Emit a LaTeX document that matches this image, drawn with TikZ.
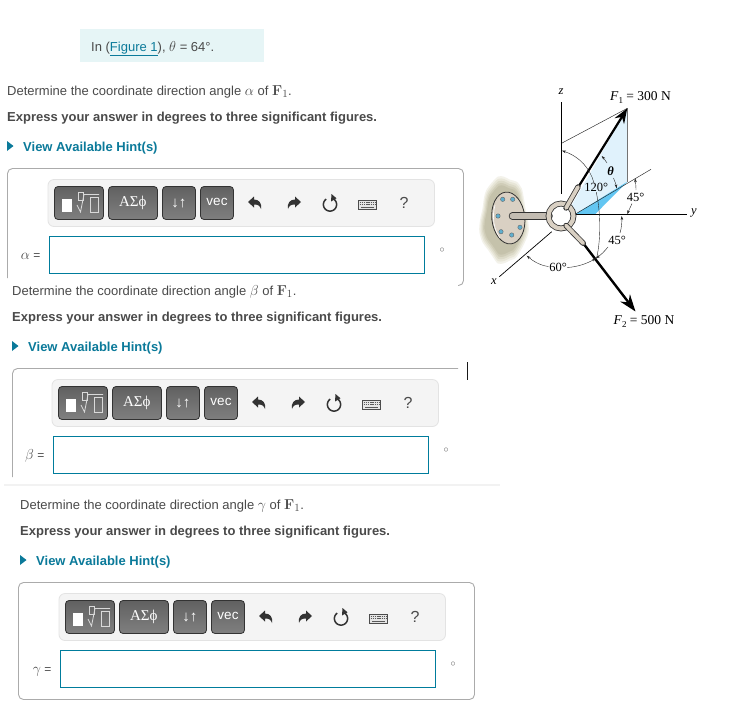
\documentclass[tikz,border=0pt]{standalone}
\usepackage[no-math]{fontspec}
\setsansfont{Liberation Sans}
\newfontfamily\figfont{Liberation Serif}
\usetikzlibrary{arrows.meta,shapes.geometric}
\definecolor{txt}{HTML}{4A4A4A}
\definecolor{teal}{HTML}{0B7A9A}
\definecolor{framec}{HTML}{ABABAB}
\definecolor{tbar}{HTML}{F4F4F4}
\definecolor{tbarb}{HTML}{E3E3E3}
\definecolor{callout}{HTML}{E6F5F6}
\definecolor{inputb}{HTML}{007C9C}
\definecolor{tan}{HTML}{D9D0C3}
\definecolor{pale}{HTML}{E0F2FC}
\definecolor{sky}{HTML}{63C6F2}
\definecolor{bolt}{HTML}{5FAFCF}
\definecolor{icon}{HTML}{333333}
\newcommand{\mmath}[1]{{\fontsize{15}{14}\selectfont$#1$}}
\newcommand{\subn}[1]{\raisebox{-2.5pt}{\fontsize{9}{9}\selectfont #1}}
\tikzset{
  body/.style={inner sep=0pt,anchor=base west,text=txt,font=\sffamily\fontsize{13}{15}\selectfont},
  strong/.style={inner sep=0pt,anchor=base west,text=txt,font=\sffamily\bfseries\fontsize{13}{15}\selectfont},
  hint/.style={inner sep=0pt,anchor=base west,text=teal,font=\sffamily\bfseries\fontsize{13}{15}\selectfont},
  frameline/.style={draw=framec,line width=.9pt},
  btn/.style={draw=black!80,line width=.8pt,rounded corners=3.5pt,top color=black!62,bottom color=black!50},
  btntxt/.style={inner sep=0pt,text=white},
  figtxt/.style={inner sep=0pt,text=black,font=\figfont\fontsize{12.5}{14}\selectfont},
  forcetxt/.style={inner sep=0pt,text=black,font=\figfont\fontsize{13.5}{15}\selectfont},
  thin line/.style={draw=black!85,line width=.45pt},
  dim/.style={draw=black!85,line width=.4pt,-{Stealth[length=4pt,width=2.6pt]}},
  sleeve/.style={draw=black!80,line width=5.4pt,line cap=round},
  sleevein/.style={draw=tan,line width=3.8pt,line cap=round},
}
% #1 prefix, #2 dx, #3 dy, #4 symbol
\newcommand{\toolpanel}[4]{%
  \begin{scope}[shift={(#2,#3)}]
    \path[fill=tbar,draw=tbarb,line width=.8pt,rounded corners=6pt] (48,179.5) rectangle (434.5,226.5);
    \path[btn] (54.5,186.5) rectangle (103.5,219.5);
    \path[btn] (108.5,186.5) rectangle (157.5,219.5);
    \path[btn] (162.5,186.5) rectangle (195.5,219.5);
    \path[btn] (200.5,186.5) rectangle (233.5,219.5);
    \fill[white] (62,199) rectangle (71.7,212);
    \draw[white!85!black,line width=.6pt] (78,192.5) rectangle (83,200);
    \draw[white!85!black,line width=.7pt] (90,197.5) rectangle (98,212);
    \draw[white!85!black,line width=.8pt] (77,205) -- (80.5,212) -- (84,194.5) -- (99,194.5);
    \node[btntxt,font=\figfont\fontsize{15}{15}\selectfont] (#1sym) at (132.8,202.5) {ΑΣϕ};
    \node[btntxt,font=\sffamily\fontsize{15}{15}\selectfont] (#1sort) at (178.8,203.5) {↓↑};
    \node[btntxt,font=\sffamily\fontsize{13.5}{14}\selectfont] (#1vec) at (217,202) {vec};
    % undo
    \fill[icon] (248,202) -- (254,196.5) -- (254,199.5) .. controls (259,199.5) and (262,203) .. (261,209) .. controls (260,205.5) and (258,204.5) .. (254,204.5) -- (254,207.5) -- cycle;
    % redo
    \fill[icon] (301,202) -- (295,196.5) -- (295,199.5) .. controls (290,199.5) and (287,203) .. (288,209) .. controls (289,205.5) and (291,204.5) .. (295,204.5) -- (295,207.5) -- cycle;
    % reload
    \draw[icon,line width=1.5pt] plot[domain=-75:235,samples=32] ({330+6.6*cos(\x)},{204.5+6.6*sin(\x)});
    \fill[icon] (331.5,194) -- (336.5,198.3) -- (331,201.5) -- cycle;
    % keyboard
    \draw[black!70,fill=black!10,line width=.7pt] (358,200) rectangle (376.5,209.5);
    \draw[black!65,line width=1pt,dash pattern=on 1.4pt off .8pt] (359.5,202.2) -- (375.5,202.2);
    \draw[black!65,line width=1pt,dash pattern=on 1.4pt off .8pt] (359.5,204.5) -- (375.5,204.5);
    \draw[black!65,line width=1pt] (361,207) -- (373.5,207);
    \node[inner sep=0pt,text=txt,font=\sffamily\fontsize{16}{16}\selectfont] (#1help) at (404,203) {?};
    \path[fill=white,draw=inputb,line width=1pt] (49.5,236.5) rectangle (424.5,273.5);
    \node[inner sep=0pt,anchor=base east,text=txt,font=\sffamily\fontsize{12}{14}\selectfont] (#1lab) at (40.5,259) {\mmath{#4} =};
    \node[inner sep=0pt,text=black!60,font=\fontsize{10}{12}\selectfont] (#1deg) at (442,250) {$\circ$};
  \end{scope}}
% #1 prefix, #2 x, #3 y of first line, #4 symbol
\newcommand{\question}[4]{%
  \node[body] (#1a) at (#2,#3) {Determine the coordinate direction angle \mmath{#4} of \mmath{\mathbf{F}_1}.};
  \node[strong] (#1b) at (#2,#3+26) {Express your answer in degrees to three significant figures.};
  \fill[teal] (#2,#3+46) -- (#2+6.5,#3+51) -- (#2,#3+56) -- cycle;
  \node[hint] (#1c) at (#2+16,#3+56) {View Available Hint(s)};}
\begin{document}
\begin{tikzpicture}[x=1pt,y=-1pt]
\useasboundingbox (0,0) rectangle (746,726);
\fill[white] (0,0) rectangle (746,726);
% callout
\fill[callout] (80,29) rectangle (264,62);
\node[body] (intro) at (91,51) {In (\textcolor{teal}{\underline{Figure 1}}), \mmath{\theta} = 64°.};
% question 1
\question{qa}{7}{95}{\alpha}
\draw[frameline,rounded corners=5pt] (7.5,278) -- (7.5,168.5) -- (463.5,168.5) -- (463.5,285.5) -- (458,285.5);
\toolpanel{pa}{0}{0}{\alpha}
\question{qb}{12}{295}{\beta}
% question 2
\draw[frameline,rounded corners=5pt] (12.5,477) -- (12.5,368.5) -- (458,368.5);
\draw[black!90,line width=1pt] (467.5,362) -- (467.5,380);
\toolpanel{pb}{4}{200}{\beta}
\draw[black!5,line width=2pt] (4,485) -- (500,485);
% question 3
\question{qc}{20}{509}{\gamma}
\draw[frameline,rounded corners=5pt] (18.5,582.5) rectangle (474.5,699.5);
\toolpanel{pc}{11}{414}{\gamma}

% ---------- figure ----------
\coordinate (O) at (561,216);
\coordinate (ztop) at (561,102);
\coordinate (zbot) at (561,194);
\coordinate (yleft) at (575,214.3);
\coordinate (yend) at (687,214.3);
\coordinate (xstart) at (551.7,231.7);
\coordinate (xend) at (499.3,276.7);
\coordinate (tip) at (627.3,108.3);
\coordinate (foot) at (627.3,181.7);
\coordinate (zmark) at (561.5,143.3);
\coordinate (ray) at (651,169.3);
\coordinate (f2tip) at (635.5,311.5);
% wall shade
\foreach \rr/\cc in {1.14/F3F2EA,1.08/E8E6D8,1.02/DCDAC8,0.96/D0CDB8,0.9/C5C2AB}{
  \definecolor{shadec}{HTML}{\cc}
  \fill[shadec] plot[smooth cycle,domain=0:345,samples=24]
   ({504+\rr*(21+1.5*sin(5*\x))*cos(\x)},{220+\rr*(38+1.5*cos(7*\x))*sin(\x)});
}
% plate
\draw[black!80,fill=tan,line width=.8pt,rotate around={6:(508.3,218)}] (508.3,218) ellipse (16.5pt and 26pt);
\draw[white,line width=.6pt] (495,205) .. controls (492,216) and (493,228) .. (500,238);
\foreach \px/\py in {502.7/199.3,512.7/199.3,498/216,520/227.3,511.7/235,501/231.7}{
  \fill[bolt,draw=black!60,line width=.4pt] (\px,\py) circle (2.2pt);
}
% rod
\draw[black!80,line width=7.5pt,line cap=round] (512.5,216) -- (549,216);
\draw[tan!75!gray,line width=5.8pt,line cap=round] (512.5,216) -- (549,216);
% blue faces
\fill[pale] (570,208.3) -- (tip) -- (foot) -- (595,214.3) -- (yleft) -- cycle;
\fill[sky] (yleft) -- (foot) -- (595,214.3) -- cycle;
% construction lines
\draw[thin line] (zmark) -- (tip);
\draw[draw=black!55,line width=.5pt] (tip) -- (foot);
\draw[thin line] (yleft) -- (ray);
\draw[draw=black,line width=.7pt] (ztop) -- (zbot);
\draw[draw=black,line width=.7pt] (yleft) -- (yend);
\draw[draw=black,line width=.7pt] (xstart) -- (xend);
% ring
\draw[black!80,line width=5.8pt] (O) circle (12.5pt);
\draw[tan,line width=4.2pt] (O) circle (12.5pt);
% F1
\draw[black,line width=2.2pt,-{Stealth[length=15pt,width=11pt]}] (578,187.5) -- (tip);
\draw[sleeve] (566,208) -- (578,187);
\draw[sleevein] (566,208) -- (578,187);
% F2
\draw[black,line width=2.4pt,-{Stealth[length=17pt,width=12pt]}] (583,243) -- (f2tip);
\draw[sleeve] (566,225.5) -- (583.3,243.3);
\draw[sleevein] (566,225.5) -- (583.3,243.3);
% angle marks
\draw[dim] (596.5,258.5) .. controls (601,240) and (602,205) .. (592,177) .. controls (586,163) and (575,155) .. (562,150.7);
\draw[dim] (548.5,266.5) .. controls (540,265.5) and (533,261) .. (526.7,255.7);
\draw[dim] (567,267.5) .. controls (578,267) and (588,263) .. (596,258.3);
\draw[dim] (608,247) .. controls (604,252) and (600,255.5) .. (596,258.3);
\draw[dim] (620,233) .. controls (621.5,228) and (622,222) .. (621.7,216);
\draw[dim] (632,203.5) .. controls (630,208) and (628.5,211) .. (627.3,214.3);
\draw[dim] (636,190) .. controls (636,186) and (635.5,182) .. (635,178.3);
\draw[dim] (607,163) .. controls (605,160) and (603.5,158) .. (601.7,156);
\draw[dim] (613.5,178) .. controls (615,181) and (616,185) .. (616.7,188.3);
% labels
\node[figtxt] (zlab) at (561,92) {\textit{z}};
\node[figtxt] (ylab) at (694,213) {\textit{y}};
\node[figtxt] (xlab) at (494,282) {\textit{x}};
\node[forcetxt] (f1lab) at (640.5,97.5) {\textit{F}\subn{1} = 300 N};
\node[forcetxt] (f2lab) at (644,321.7) {\textit{F}\subn{2} = 500 N};
\node[figtxt,fill=pale,inner sep=.5pt] (a120) at (596.2,187.7) {120°};
\node[figtxt] (a60) at (558,267.8) {60°};
\node[figtxt] (a45a) at (617,240.3) {45°};
\node[figtxt] (a45b) at (635.7,197.3) {45°};
\node[figtxt] (theta) at (610.7,170.7) {\textit{\textbf{θ}}};
\end{tikzpicture}
\end{document}
